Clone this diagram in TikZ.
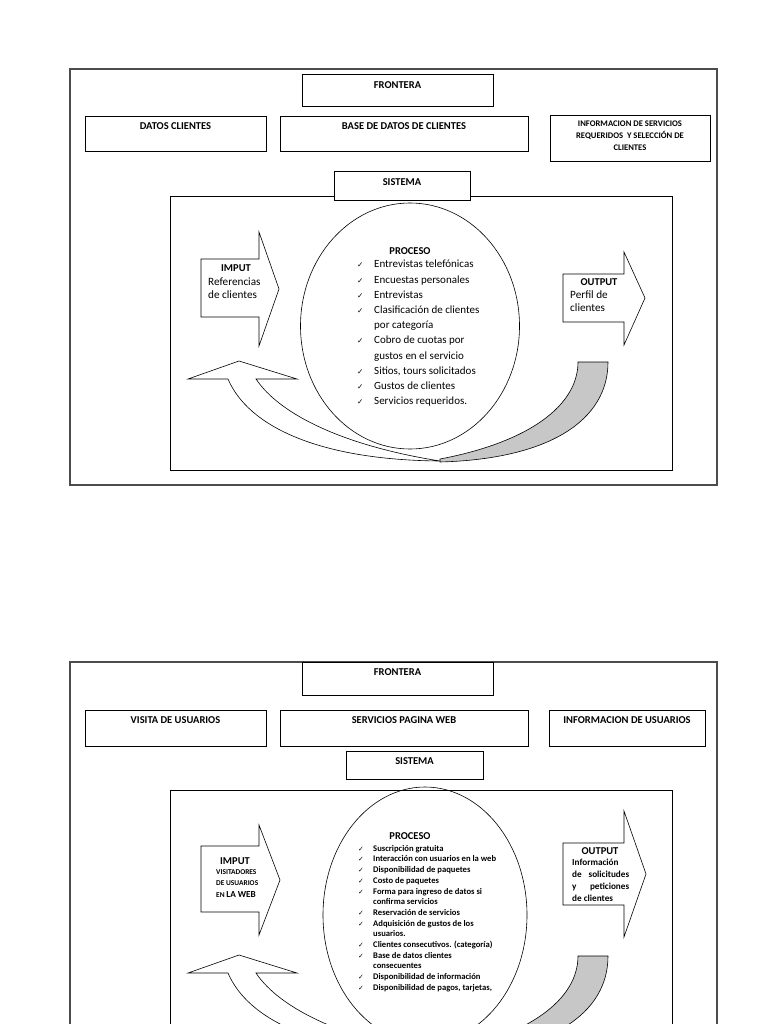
\documentclass[tikz,border=0pt]{standalone}
\usepackage{fontspec}
\usetikzlibrary{shapes.geometric}
\setmainfont{Carlito}
\newfontfamily\dejavu{DejaVu Sans}
\newcommand{\ckm}{\makebox[17pt][l]{\dejavu\fontsize{7.5}{7.5}\selectfont ✓}}
\newcommand{\ckb}{\makebox[15pt][l]{\dejavu\fontsize{6.8}{6.8}\selectfont ✓}}
\begin{document}
\begin{tikzpicture}[x=1pt,y=-1pt,
  frame/.style={draw=black!70, line width=1.2pt},
  box/.style={draw=black, line width=0.8pt, fill=white, inner sep=0pt, anchor=north west},
  ttl/.style={font=\bfseries\fontsize{10.5}{12}\selectfont, inner sep=0pt},
  txt/.style={inner sep=0pt, align=left, anchor=north west},
  shp/.style={draw=black, line width=0.6pt, fill=white},
  gshp/.style={draw=black, line width=0.6pt, fill=black!22},
  fb/.pic={
    \path[gshp] (440,462) .. controls (550,459) and (608,420) .. (608,362)
       -- (578,362) .. controls (578,405) and (530,442) .. (440,459) -- cycle;
    \path[shp] (188,379) -- (239,361) -- (297,379) -- (256,379)
       .. controls (280,415) and (345,446) .. (440,461)
       .. controls (318,460) and (248,426) .. (228,379) -- cycle;
  }]
\useasboundingbox (0,0) rectangle (768,1024);
\fill[white] (0,0) rectangle (768,1024);
\begin{scope}
\clip (0,0) rectangle (768,1024);
% ================= TOP DIAGRAM =================
\draw[frame] (70,69) rectangle (717,485);
\node[box, minimum width=191pt, minimum height=32pt] (fr1) at (302,74) {};
\node[ttl] (fr1t) at (397.5,85) {FRONTERA};
\node[box, minimum width=181pt, minimum height=35pt] (dc1) at (85,116) {};
\node[ttl] (dc1t) at (175.5,126) {DATOS CLIENTES};
\node[box, minimum width=248pt, minimum height=35pt] (bd1) at (280,116) {};
\node[ttl] (bd1t) at (404,126) {BASE DE DATOS DE CLIENTES};
\node[box, minimum width=160pt, minimum height=46pt] (in1) at (550,115) {};
\node[ttl, align=center, font=\bfseries\fontsize{8.6}{12}\selectfont] (in1t) at (630,136)
  {INFORMACION DE SERVICIOS\\REQUERIDOS\ \ Y SELECCIÓN DE\\CLIENTES};
\draw[line width=0.8pt] (170,196) rectangle (672,470);
\node[box, minimum width=136pt, minimum height=29pt] (si1) at (334,171) {};
\node[ttl] (si1t) at (402,182) {SISTEMA};
\node[draw=black, line width=0.6pt, ellipse, minimum width=219pt, minimum height=246pt, inner sep=0pt] (c1) at (410,326) {};
\node[ttl] (p1h) at (410,251) {PROCESO};
\node[txt, font=\fontsize{11}{15.2}\selectfont] (p1) at (357,260) {%
\ckm Entrevistas telefónicas\\
\ckm Encuestas personales\\
\ckm Entrevistas\\
\ckm Clasificación de clientes\\
\hspace*{17pt}por categoría\\
\ckm Cobro de cuotas por\\
\hspace*{17pt}gustos en el servicio\\
\ckm Sitios, tours solicitados\\
\ckm Gustos de clientes\\
\ckm Servicios requeridos.};
% input arrow
\path[shp] (201,259) -- (259,259) -- (259,232) -- (279,289) -- (259,346) -- (259,317) -- (201,317) -- cycle;
\node[ttl] (im1) at (236,268) {IMPUT};
\node[txt, font=\fontsize{11.2}{12.5}\selectfont] (im1t) at (208,278) {Referencias\\de clientes};
% output arrow
\path[shp] (563,274) -- (624,274) -- (624,252) -- (645,298) -- (624,345) -- (624,322) -- (563,322) -- cycle;
\node[ttl] (ou1) at (599,282) {OUTPUT};
\node[txt, font=\fontsize{11.2}{12.8}\selectfont] (ou1t) at (570,291) {Perfil de\\clientes};
% feedback arrow
\pic at (0,0) {fb};
% ================= BOTTOM DIAGRAM =================
\draw[frame] (70,662) rectangle (717,1100);
\node[box, minimum width=191pt, minimum height=33pt] (fr2) at (302,662) {};
\node[ttl] (fr2t) at (397.5,672) {FRONTERA};
\node[box, minimum width=181pt, minimum height=36pt] (vu2) at (85,710) {};
\node[ttl] (vu2t) at (175.5,720) {VISITA DE USUARIOS};
\node[box, minimum width=248pt, minimum height=36pt] (sw2) at (280,710) {};
\node[ttl] (sw2t) at (404,720) {SERVICIOS PAGINA WEB};
\node[box, minimum width=156pt, minimum height=36pt] (iu2) at (549,710) {};
\node[ttl] (iu2t) at (627,720) {INFORMACION DE USUARIOS};
\draw[line width=0.8pt] (170,790) rectangle (672,1100);
\node[box, minimum width=137pt, minimum height=28pt] (si2) at (346,751) {};
\node[ttl] (si2t) at (414.5,761) {SISTEMA};
\node[draw=black, line width=0.6pt, ellipse, minimum width=204pt, minimum height=256pt, inner sep=0pt] (c2) at (425,915) {};
\node[ttl] (p2h) at (410,836) {PROCESO};
\node[txt, font=\bfseries\fontsize{8.6}{10.7}\selectfont] (p2) at (358,845) {%
\ckb Suscripción gratuita\\
\ckb Interacción con usuarios en la web\\
\ckb Disponibilidad de paquetes\\
\ckb Costo de paquetes\\
\ckb Forma para ingreso de datos si\\
\hspace*{15pt}confirma servicios\\
\ckb Reservación de servicios\\
\ckb Adquisición de gustos de los\\
\hspace*{15pt}usuarios.\\
\ckb Clientes consecutivos. (categoría)\\
\ckb Base de datos clientes\\
\hspace*{15pt}consecuentes\\
\ckb Disponibilidad de información\\
\ckb Disponibilidad de pagos, tarjetas,};
% input arrow
\path[shp] (201,846) -- (259,846) -- (259,825) -- (280,880) -- (259,935) -- (259,912) -- (201,912) -- cycle;
\node[ttl] (im2) at (235,861) {IMPUT};
\node[txt, font=\bfseries\fontsize{7.4}{11.8}\selectfont] (im2t) at (216,869) {VISITADORES\\DE USUARIOS\\EN {\fontsize{9.2}{11.8}\selectfont LA WEB}};
% output arrow
\path[shp] (563,843) -- (624,843) -- (624,811) -- (646,874) -- (624,937) -- (624,905) -- (563,905) -- cycle;
\node[ttl] (ou2) at (600,851) {OUTPUT};
\node[txt, font=\bfseries\fontsize{9.2}{11.8}\selectfont] (ou2t) at (572,859)
  {Información\\\hbox to 57pt{de\hfill solicitudes}\\\hbox to 57pt{y\hfill peticiones}\\de clientes};
% feedback arrow
\pic at (0,594) {fb};
\end{scope}
\end{tikzpicture}
\end{document}
